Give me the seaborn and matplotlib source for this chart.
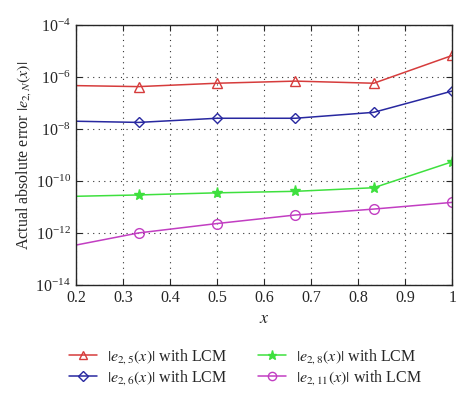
import matplotlib
matplotlib.use("Agg")
import matplotlib.pyplot as plt
import matplotlib.ticker as mticker
import seaborn as sns
import pandas as pd

# data (first point at x=1/6 lies left of the axis)
x = [1/6, 1/3, 1/2, 2/3, 5/6, 1.0]
e25 = [4.8e-7, 4.3e-7, 5.8e-7, 7.0e-7, 5.8e-7, 6.8e-6]
e26 = [2.05e-8, 1.8e-8, 2.6e-8, 2.6e-8, 4.4e-8, 2.9e-7]
e28 = [2.5e-11, 2.9e-11, 3.5e-11, 4.0e-11, 5.5e-11, 5.5e-10]
e211 = [2.6e-13, 1.0e-12, 2.3e-12, 4.9e-12, 8.3e-12, 1.5e-11]

labels = [r"$|e_{2,5}(x)|$ with LCM", r"$|e_{2,6}(x)|$ with LCM",
          r"$|e_{2,8}(x)|$ with LCM", r"$|e_{2,11}(x)|$ with LCM"]
colors = ["#d63c3c", "#2828a0", "#3ee03e", "#c23ec2"]
markers = ["^", "D", "*", "o"]
msizes = [7, 5.5, 8, 7]

sns.set_style("ticks")
plt.rcParams["font.family"] = ["Liberation Serif", "DejaVu Serif"]
plt.rcParams["mathtext.fontset"] = "stix"

fig = plt.figure(figsize=(4.74, 3.99), dpi=100)
ax = fig.add_axes([0.160, 0.286, 0.794, 0.651])

for vals, lab, c, m, ms in zip([e25, e26, e28, e211], labels, colors, markers, msizes):
    df = pd.DataFrame({"x": x, "y": vals})
    sns.lineplot(data=df, x="x", y="y", ax=ax, color=c, marker=m, markersize=ms,
                 markerfacecolor="none" if m != "*" else c, markeredgecolor=c,
                 markeredgewidth=1.0, linewidth=1.1, label=lab)

ax.set_yscale("log")
ax.set_xlim(0.2, 1.0)
ax.set_ylim(1e-14, 1e-4)
ax.set_xticks([0.2, 0.3, 0.4, 0.5, 0.6, 0.7, 0.8, 0.9, 1.0])
ax.set_xticklabels(["0.2", "0.3", "0.4", "0.5", "0.6", "0.7", "0.8", "0.9", "1"])
ax.yaxis.set_major_locator(mticker.LogLocator(base=100))
ax.yaxis.set_minor_locator(mticker.NullLocator())
ax.tick_params(direction="in", top=True, right=True, labelsize=11.5, length=4)
ax.grid(True, linestyle=(0, (1, 4)), color="#333333", linewidth=0.8)
for s in ax.spines.values():
    s.set_linewidth(1.0)

ax.set_xlabel(r"$x$", fontsize=13, labelpad=3)
ax.set_ylabel(r"Actual absolute error $|e_{2,N}(x)|$", fontsize=11.5, labelpad=2)

ax.legend(loc="upper center", bbox_to_anchor=(0.45, -0.185), ncol=2, frameon=False,
          fontsize=11.5, handlelength=1.8, columnspacing=1.9, labelspacing=0.1,
          handletextpad=0.6, markerscale=0.85)

fig.savefig("out.png", dpi=100)
